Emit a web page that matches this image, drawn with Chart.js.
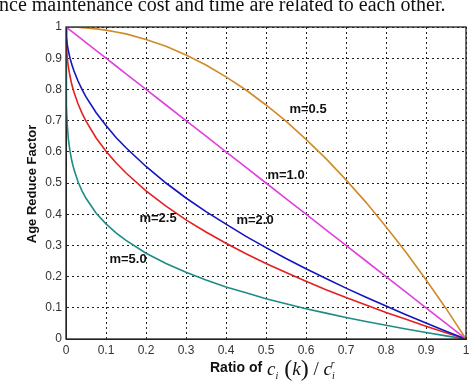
<!DOCTYPE html>
<html><head><meta charset="utf-8">
<script src="https://cdn.jsdelivr.net/npm/chart.js@4.4.0/dist/chart.umd.min.js"></script>
<style>
html,body{margin:0;padding:0;background:#fff;overflow:hidden}
#wrap{position:relative;width:474px;height:382px}
#c{position:absolute;left:0;top:0}
#top{position:absolute;left:-1px;top:-7px;font-family:"Liberation Serif","Times New Roman",serif;font-size:20px;color:#111;white-space:nowrap}
#xl{position:absolute;left:210px;top:354px;height:26px;white-space:nowrap;color:#111;display:flex;align-items:center}
#xl .t{font-family:"Liberation Sans",Arial,sans-serif;font-weight:bold;font-size:14px;margin-right:5px}
#xl .m{font-family:"Liberation Serif","Times New Roman",serif;font-style:italic;font-size:19px;position:relative;display:inline-block}
#xl .s{font-size:10px;position:relative;top:4px}
#xl .u{font-size:10px;position:relative;top:-8px;margin-left:-4px}
#xl .p{font-style:normal;font-size:24px;font-weight:300;position:relative;top:1px}
</style></head>
<body><div id="wrap">
<canvas id="c" width="474" height="382"></canvas>
<div id="top">nce maintenance cost and time are related to each other.</div>
<div id="xl"><span class="t">Ratio of</span><span class="m">c<span class="s">i</span><span class="p"> (</span>k<span class="p">)</span><span style="font-style:normal"> / </span>c<span class="s">i</span><span class="u">r</span></span></div>
</div>
<script>
const xVals = [0, 0.001, 0.003, 0.006, 0.01, 0.015, 0.02, 0.03, 0.04, 0.05, 0.075, 0.1, 0.125, 0.15, 0.2, 0.25, 0.3, 0.35, 0.4, 0.45, 0.5, 0.55, 0.6, 0.65, 0.7, 0.75, 0.8, 0.85, 0.9, 0.95, 1];
const m05 = [1, 1, 1, 1, 1, 1, 1, 0.999, 0.998, 0.997, 0.994, 0.99, 0.984, 0.978, 0.96, 0.938, 0.91, 0.878, 0.84, 0.798, 0.75, 0.698, 0.64, 0.578, 0.51, 0.438, 0.36, 0.278, 0.19, 0.098, 0];
const m10 = [1, 0.999, 0.997, 0.994, 0.99, 0.985, 0.98, 0.97, 0.96, 0.95, 0.925, 0.9, 0.875, 0.85, 0.8, 0.75, 0.7, 0.65, 0.6, 0.55, 0.5, 0.45, 0.4, 0.35, 0.3, 0.25, 0.2, 0.15, 0.1, 0.05, 0];
const m20 = [1, 0.968, 0.945, 0.923, 0.90, 0.878, 0.859, 0.827, 0.80, 0.776, 0.726, 0.684, 0.646, 0.613, 0.553, 0.50, 0.452, 0.408, 0.368, 0.329, 0.293, 0.258, 0.225, 0.194, 0.163, 0.134, 0.106, 0.078, 0.051, 0.025, 0];
const m25 = [1, 0.937, 0.902, 0.871, 0.842, 0.813, 0.791, 0.754, 0.724, 0.698, 0.645, 0.602, 0.565, 0.532, 0.475, 0.426, 0.382, 0.343, 0.307, 0.273, 0.242, 0.213, 0.185, 0.158, 0.133, 0.109, 0.085, 0.063, 0.041, 0.02, 0];
const m50 = [1, 0.749, 0.687, 0.640, 0.602, 0.568, 0.543, 0.504, 0.475, 0.451, 0.404, 0.369, 0.340, 0.316, 0.275, 0.242, 0.214, 0.189, 0.167, 0.148, 0.129, 0.113, 0.097, 0.083, 0.069, 0.056, 0.044, 0.032, 0.021, 0.01, 0];
const xTicks = [0, 0.1, 0.2, 0.3, 0.4, 0.5, 0.6, 0.7, 0.8, 0.9, 1];
const xTickLabels = ["0", "0.1", "0.2", "0.3", "0.4", "0.5", "0.6", "0.7", "0.8", "0.9", "1"];
const yTicks = [0, 0.1, 0.2, 0.3, 0.4, 0.5, 0.6, 0.7, 0.8, 0.9, 1];
const yTickLabels = ["0", "0.1", "0.2", "0.3", "0.4", "0.5", "0.6", "0.7", "0.8", "0.9", "1"];
const seriesNames = ["m=0.5", "m=1.0", "m=2.0", "m=2.5", "m=5.0"];
const labelPos = [[0.605, 0.735], [0.55, 0.525], [0.4725, 0.38], [0.23, 0.385], [0.155, 0.255]];

const colors = ["#D08A2A", "#E040DC", "#1414C0", "#E42020", "#1E8C84"];
const all = [m05, m10, m20, m25, m50];
const datasets = all.map((arr, i) => ({
  label: seriesNames[i],
  data: xVals.map((x, j) => ({x: x, y: arr[j]})),
  borderColor: colors[i], borderWidth: 1.6, pointRadius: 0, tension: 0, fill: false
}));

const deco = {
  id: 'deco',
  afterDraw(chart) {
    const ctx = chart.ctx, a = chart.chartArea;
    const xs = chart.scales.x, ys = chart.scales.y;
    ctx.save();
    ctx.strokeStyle = '#222'; ctx.lineWidth = 1.3; ctx.setLineDash([]);
    ctx.strokeRect(a.left, a.top, a.right - a.left, a.bottom - a.top);
    ctx.font = 'bold 13px "Liberation Sans", Arial, sans-serif';
    ctx.fillStyle = '#111'; ctx.textAlign = 'center'; ctx.textBaseline = 'middle';
    seriesNames.forEach((n, i) => {
      ctx.fillText(n, xs.getPixelForValue(labelPos[i][0]), ys.getPixelForValue(labelPos[i][1]));
    });
    ctx.translate(32, (a.top + a.bottom) / 2 + 1);
    ctx.rotate(-Math.PI / 2);
    ctx.fillText('Age Reduce Factor', 0, 0);
    ctx.restore();
  }
};

new Chart(document.getElementById('c'), {
  type: 'line',
  data: {datasets},
  options: {
    responsive: false, animation: false, devicePixelRatio: 1,
    layout: {padding: {left: 0, right: 8, top: 27, bottom: 0}},
    plugins: {legend: {display: false}, tooltip: {enabled: false}},
    scales: {
      x: {
        type: 'linear', min: 0, max: 1,
        afterBuildTicks: s => { s.ticks = xTicks.map(v => ({value: v})); },
        afterFit: s => { s.height = 43; },
        ticks: {callback: (v, i) => xTickLabels[i], color: '#333', padding: 4, maxRotation: 0,
                font: {family: '"Liberation Sans", Arial, sans-serif', size: 12}},
        grid: {color: '#222', lineWidth: 1, drawTicks: false},
        border: {display: true, color: '#222', dash: [2, 3]}
      },
      y: {
        type: 'linear', min: 0, max: 1,
        afterBuildTicks: s => { s.ticks = yTicks.map(v => ({value: v})); },
        afterFit: s => { s.width = 66; },
        ticks: {callback: (v, i) => yTickLabels[i], color: '#333', padding: 4,
                font: {family: '"Liberation Sans", Arial, sans-serif', size: 12}},
        grid: {color: '#222', lineWidth: 1, drawTicks: false},
        border: {display: true, color: '#222', dash: [2, 3]}
      }
    }
  },
  plugins: [deco]
});
</script>
</body></html>
